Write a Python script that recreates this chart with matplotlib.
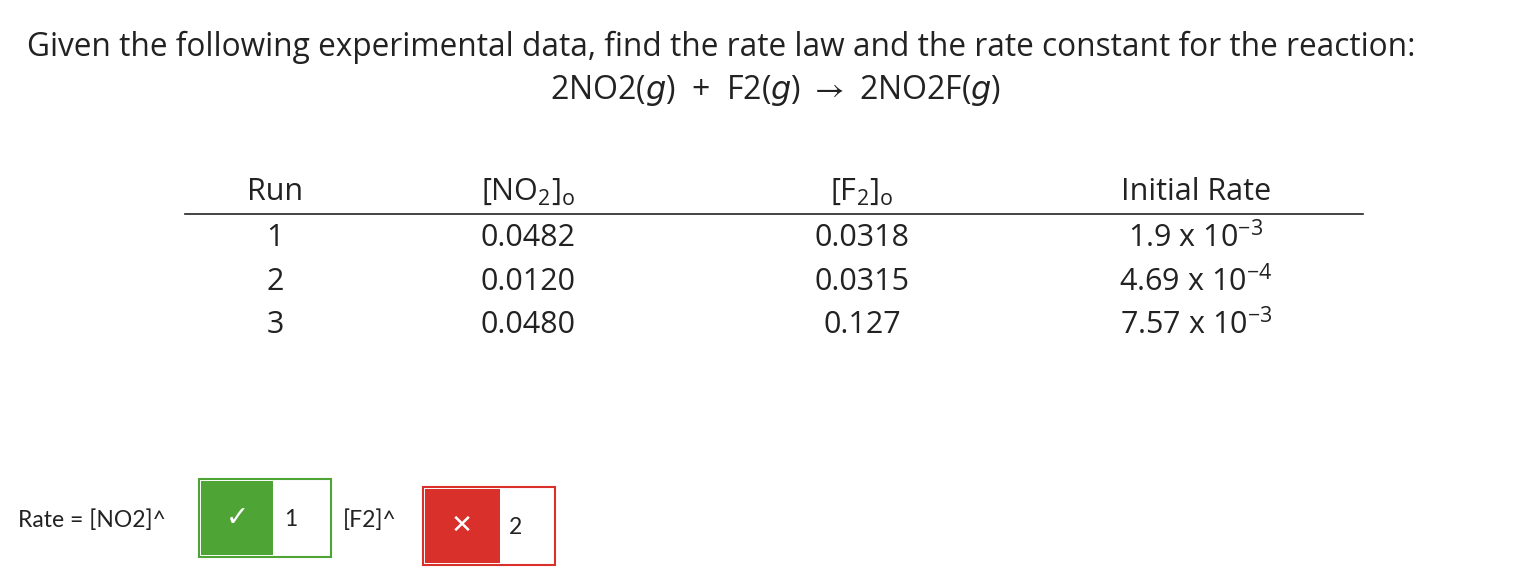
import matplotlib
matplotlib.use("Agg")
import matplotlib.pyplot as plt
from matplotlib.patches import Rectangle

plt.rcParams['font.family'] = ['Open Sans', 'DejaVu Sans']
plt.rcParams['mathtext.default'] = 'regular'

W, H = 1524, 576
headers = ["Run", "[NO$_2$]$_o$", "[F$_2$]$_o$", "Initial Rate"]
runs = ["1", "2", "3"]
no2 = ["0.0482", "0.0120", "0.0480"]
f2 = ["0.0318", "0.0315", "0.127"]
rates = ["1.9 x 10$^{-3}$", "4.69 x 10$^{-4}$", "7.57 x 10$^{-3}$"]
answers = ["1", "2"]

fig = plt.figure(figsize=(W/100, H/100), dpi=100)
fig.patch.set_facecolor('white')
ax = fig.add_axes([0, 0, 1, 1])
ax.set_xlim(0, W); ax.set_ylim(H, 0); ax.axis('off')

ax.text(27, 47, "Given the following experimental data, find the rate law and the rate constant for the reaction:",
        fontsize=22.8, va='center', ha='left', color='#222')
ax.text(776, 91, "2NO2($\\it{g}$)  +  F2($\\it{g}$) $\\rightarrow$ 2NO2F($\\it{g}$)", fontsize=23,
        va='center', ha='center', color='#222')

cols = [275, 528, 862, 1196]
for x, h in zip(cols, headers):
    ax.text(x, 192, h, fontsize=22, ha='center', va='center', color='#222')
ax.plot([185, 1363], [214, 214], color='#222', lw=1.2)
rows_y = [238, 282, 325]
for i, y in enumerate(rows_y):
    for x, v in zip(cols, [runs[i], no2[i], f2[i], rates[i]]):
        ax.text(x, y, v, fontsize=22, ha='center', va='center', color='#222')

ax.text(18, 520, "Rate = [NO2]^", fontsize=16.5, family='Lato', va='center', color='#222')
ax.text(343, 520, "[F2]^", fontsize=16.5, family='Lato', va='center', color='#222')

# green box
ax.add_patch(Rectangle((199, 479), 132, 78, fc='white', ec='#4ea535', lw=1.5))
ax.add_patch(Rectangle((201, 481), 72, 74, fc='#4ea535', ec='none'))
ax.text(237, 518, "✓", fontsize=20, color='white', ha='center', va='center', family='DejaVu Sans')
ax.text(291, 519, answers[0], fontsize=16.5, family='Lato', ha='center', va='center', color='#222')
# red box
ax.add_patch(Rectangle((423, 487), 132, 78, fc='white', ec='#d9302c', lw=1.5))
ax.add_patch(Rectangle((425, 489), 75, 74, fc='#d9302c', ec='none'))
ax.text(462, 526, "✕", fontsize=19, color='white', ha='center', va='center', family='DejaVu Sans')
ax.text(516, 527, answers[1], fontsize=16.5, family='Lato', ha='center', va='center', color='#222')

fig.savefig("out.png", dpi=100, facecolor='white')
